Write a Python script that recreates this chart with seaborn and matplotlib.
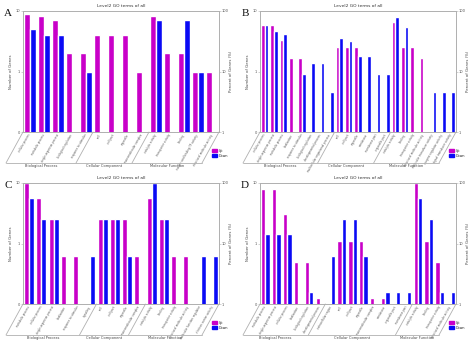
import numpy as np
import pandas as pd
import matplotlib
matplotlib.use("Agg")
import matplotlib.pyplot as plt
import seaborn as sns
from matplotlib.lines import Line2D
from matplotlib.patches import Patch
from matplotlib.ticker import FixedLocator, NullLocator, FixedFormatter

# ---------------- data (percent of genes, log scale) ----------------
a_categories = ["cellular process", "metabolic process", "single-organism process",
                "biological regulation", "response to stimulus",
                "cell", "cell part", "organelle", "macromolecular complex",
                "catalytic activity", "transporter activity", "binding",
                "nucleic acid binding TF activity",
                "structural molecule activity"]
a_up = [90, 82, 70, 20, 20, 40, 40, 40, 10, 82, 20, 20, 10, 10]
a_down = [50, 40, 40, 0, 10, 0, 0, 0, 0, 70, 0, 70, 10, 0]
a_groups = [5, 4, 5]

b_categories = ["cellular process", "single-organism process", "metabolic process",
                "localization", "response to stimulus", "biological regulation",
                "developmental process", "multicellular organismal process",
                "cell", "cell part", "organelle", "membrane", "membrane part",
                "organelle part",
                "catalytic activity", "binding", "transporter activity",
                "structural molecule activity", "molecular transducer activity",
                "enzyme regulator activity", "signal transducer activity"]
b_up = [59, 59, 33, 17, 17, 0, 0, 0, 25, 25, 25, 0, 0, 0, 67, 25, 25, 17, 0, 0, 0]
b_down = [59, 46, 42, 0, 9, 14, 14, 4.6, 36, 32, 18, 18, 9, 9, 79, 55, 0, 0, 4.6, 4.6, 4.6]
b_groups = [8, 6, 7]

c_categories = ["metabolic process", "cellular process", "single-organism process",
                "localization", "response to stimulus", "signaling",
                "cell", "cell part", "organelle", "macromolecular complex",
                "catalytic activity", "binding", "transporter activity",
                "structural molecule activity", "molecular function regulator",
                "electron carrier activity"]
c_up = [100, 56, 25, 6.2, 6.2, 0, 25, 25, 25, 6.2, 56, 25, 6.2, 6.2, 0, 0]
c_down = [56, 25, 25, 0, 0, 6.2, 25, 25, 6.2, 0, 100, 25, 0, 0, 6.2, 6.2]
c_groups = [6, 4, 6]

d_categories = ["metabolic process", "single-organism process", "cellular process",
                "localization", "biological regulation", "developmental process",
                "extracellular region", "cell", "cell part", "organelle",
                "macromolecular complex", "membrane", "organelle part", "membrane part",
                "catalytic activity", "binding", "transporter activity",
                "structural molecule activity"]
d_up = [79, 79, 31, 5, 5, 1.24, 0, 11.2, 11.2, 11.2, 1.24, 1.24, 0, 0, 100, 11.2, 5, 0]
d_down = [14.2, 14.2, 14.2, 0, 1.57, 0, 6.3, 25, 25, 6.3, 0, 1.57, 1.57, 1.57, 56, 25, 1.57, 1.57]
d_groups = [6, 8, 4]

group_names = ["Biological Process", "Cellular Component", "Molecular Function"]
series_names = ["Up", "Down"]
left_ticklabels = ["0", "1", "10"]
right_ticklabels = ["1", "10", "100"]
title_text = "Level2 GO terms of all"

MAG = "#C800C8"
BLU = "#0A0AF5"
GRID = "#B0B0B0"

W, H = 474, 345
fig = plt.figure(figsize=(W / 100, H / 100), dpi=100)
sns.set_style("white")
plt.rcParams["font.family"] = ["DejaVu Sans"]


def fx(px):
    return px / W


def fy(py):
    return 1 - py / H


def draw_panel(letter, x0, y0, cats, up, down, groups):
    left, right = x0 + 23, x0 + 219
    top, bottom = y0 + 11, y0 + 132
    ax = fig.add_axes([fx(left), fy(bottom), fx(right - left), (bottom - top) / H])
    df = pd.DataFrame({
        "category": cats * 2,
        "regulation": [series_names[0]] * len(cats) + [series_names[1]] * len(cats),
        "percent": list(up) + list(down),
    })
    sns.barplot(data=df, x="category", y="percent", hue="regulation",
                hue_order=series_names, order=cats, palette=[MAG, BLU],
                width=0.8, saturation=1, legend=False, ax=ax, errorbar=None)
    ax.set_yscale("log")
    ax.set_ylim(1, 100)
    n = len(cats)
    ax.set_xlim(-0.5, n - 0.5)
    ax.set_xticks([])
    ax.set_xlabel("")
    ax.set_ylabel("")
    ax.yaxis.set_major_locator(FixedLocator([1, 10, 100]))
    ax.yaxis.set_minor_locator(NullLocator())
    ax.yaxis.set_major_formatter(FixedFormatter(left_ticklabels))
    ax.tick_params(axis="y", labelsize=2.6, length=1.2, width=0.4, color=GRID,
                   labelcolor="#555555", pad=1)
    for s in ax.spines.values():
        s.set_color(GRID)
        s.set_linewidth(0.6)
        s.set_visible(True)
    ax2 = ax.twinx()
    ax2.set_yscale("log")
    ax2.set_ylim(1, 100)
    ax2.yaxis.set_major_locator(FixedLocator([1, 10, 100]))
    ax2.yaxis.set_minor_locator(NullLocator())
    ax2.yaxis.set_major_formatter(FixedFormatter(right_ticklabels))
    ax2.tick_params(axis="y", labelsize=2.6, length=1.2, width=0.4, color=GRID,
                    labelcolor="#555555", pad=1)
    for s in ax2.spines.values():
        s.set_color(GRID)
        s.set_linewidth(0.6)

    ymid = (top + bottom) / 2
    fig.text(fx(x0 + 11), fy(ymid), "Number of Genes", rotation=90,
             ha="center", va="center", fontsize=2.8, color="#444444")
    fig.text(fx(x0 + 231), fy(ymid), "Percent of Genes (%)", rotation=90,
             ha="center", va="center", fontsize=2.8, color="#444444")

    for i, c in enumerate(cats):
        ax.text(i, -0.02, c, transform=ax.get_xaxis_transform(), rotation=60,
                rotation_mode="anchor", ha="right", va="center",
                fontsize=1.9, color="#555555")

    width_px = right - left
    dx, dy = -17, 31
    ybot = bottom + dy

    def xpx(v):
        return left + (v + 0.5) / n * width_px

    bounds = [-0.5]
    acc = 0
    for g in groups:
        acc += g
        bounds.append(acc - 0.5)
    for b in bounds:
        xa = xpx(b)
        fig.add_artist(Line2D([fx(xa), fx(xa + dx)], [fy(bottom), fy(ybot)],
                              transform=fig.transFigure, color=GRID, lw=0.6))
    fig.add_artist(Line2D([fx(xpx(bounds[0]) + dx), fx(xpx(bounds[-1]) + dx)],
                          [fy(ybot), fy(ybot)], transform=fig.transFigure,
                          color=GRID, lw=0.6))
    for gi, name in enumerate(group_names):
        xc = (xpx(bounds[gi]) + xpx(bounds[gi + 1])) / 2 + dx
        fig.text(fx(xc), fy(ybot + 3), name, ha="center", va="center",
                 fontsize=2.6, color="#444444")

    handles = [Patch(facecolor=MAG, edgecolor=MAG), Patch(facecolor=BLU, edgecolor=BLU)]
    fig.legend(handles, series_names, loc="upper left",
               bbox_to_anchor=(fx(x0 + 210), fy(y0 + 147)), frameon=False,
               fontsize=2.4, handlelength=1.6, handleheight=0.9,
               labelspacing=0.3, borderpad=0, handletextpad=0.4)

    fig.text(fx((left + right) / 2), fy(y0 + 6), title_text, ha="center",
             va="center", fontsize=3.2, color="#333333")
    fig.text(fx(x0 + 8), fy(y0 + 13), letter, ha="center", va="center",
             fontsize=8, family="Liberation Serif", color="#111111")
    return ax


draw_panel("A", 0, 0, a_categories, a_up, a_down, a_groups)
draw_panel("B", 237, 0, b_categories, b_up, b_down, b_groups)
draw_panel("C", 0, 172, c_categories, c_up, c_down, c_groups)
draw_panel("D", 237, 172, d_categories, d_up, d_down, d_groups)

fig.savefig("out.png", dpi=100)
